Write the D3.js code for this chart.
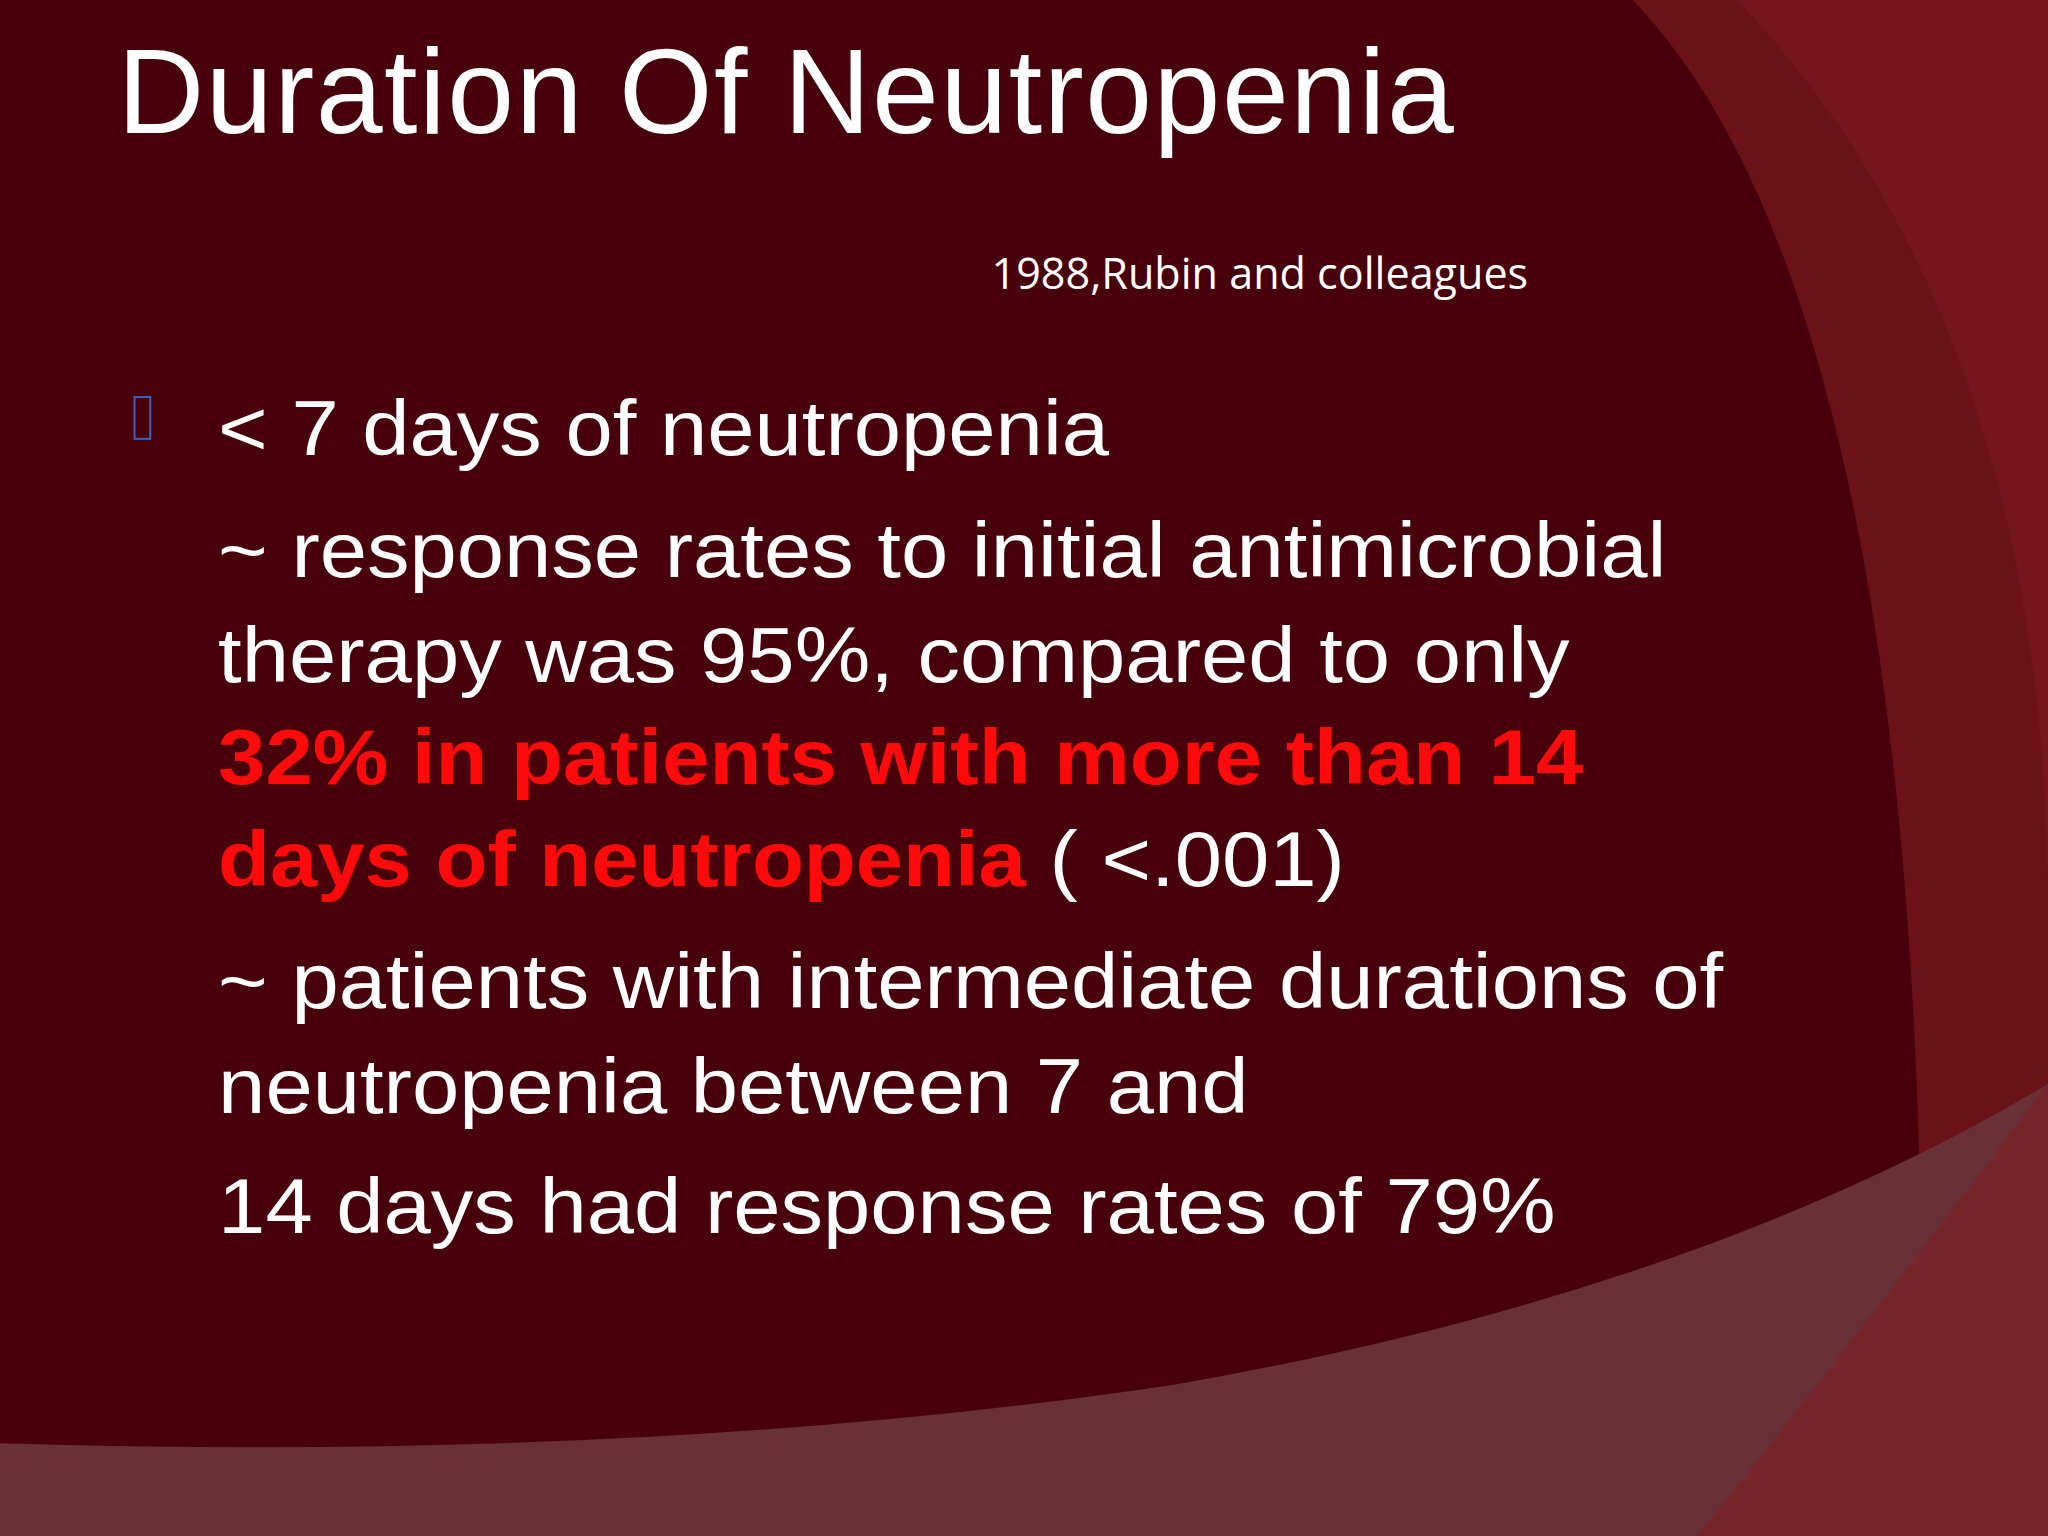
<!DOCTYPE html>
<html><head><meta charset="utf-8">
<script src="https://cdn.jsdelivr.net/npm/d3@7"></script>
<style>html,body{margin:0;padding:0;background:#4a0006;overflow:hidden}</style>
</head><body>
<script>
const title = "Duration Of Neutropenia";
const subtitle = "1988,Rubin and colleagues";
const lines = [
  [{t:"< 7 days of neutropenia"}],
  [{t:"~ response rates to initial antimicrobial"}],
  [{t:"therapy was 95%, compared to only"}],
  [{t:"32% in patients with more than 14", red:true}],
  [{t:"days of neutropenia", red:true},{t:" ( <.001)"}],
  [{t:"~ patients with intermediate durations of"}],
  [{t:"neutropenia between 7 and"}],
  [{t:"14 days had response rates of 79%"}]
];
const baselines = [348, 442, 522, 600, 678, 772, 852, 944]; // in 1568-wide reference units
const W = 2048, H = 1536;
const svg = d3.select("body").append("svg").attr("width",W).attr("height",H);
const y = d3.scaleLinear().domain([0,1176]).range([0,H]);
const x = d3.scaleLinear().domain([0,1568]).range([0,W]);
svg.append("rect").attr("width",W).attr("height",H).attr("fill","#48000a");
svg.append("path").attr("d",`M${x(1250)},0 Q${x(1490)},${y(250)} ${x(1470)},${y(1176)} L${W},${H} L${W},0 Z`).attr("fill","#6a1216");
svg.append("path").attr("d",`M${x(1330)},0 Q${x(1568)},${y(250)} ${x(1568)},${y(700)} L${W},0 Z`).attr("fill","#7a1a1e").attr("opacity",0.6);
svg.append("path").attr("d",`M0,${y(1105)} Q${x(500)},${y(1120)} ${x(900)},${y(1060)} Q${x(1300)},${y(990)} ${x(1568)},${y(830)} L${W},${H} L0,${H} Z`).attr("fill","#693035");
svg.append("path").attr("d",`M${x(1300)},${H} Q${x(1440)},${y(1000)} ${x(1568)},${y(830)} L${W},${H} Z`).attr("fill","#7a2228").attr("opacity",0.8);

svg.append("text").attr("x",x(90)).attr("y",y(102)).attr("fill","#fff")
  .attr("font-family","Liberation Sans, Arial, sans-serif").attr("font-size",y(92))
  .attr("textLength",x(1113)-x(90)).text(title);
svg.append("text").attr("x",x(1170)).attr("y",y(221)).attr("text-anchor","end").attr("fill","#fff")
  .attr("font-family","Open Sans, sans-serif").attr("font-size",y(33)).text(subtitle);
svg.append("rect").attr("x",x(103)).attr("y",y(304)).attr("width",x(12)).attr("height",y(32)).attr("fill","none").attr("stroke","#3a5fbf").attr("stroke-width",2);

lines.forEach((segs,i)=>{
  const t = svg.append("text")
    .attr("transform",`translate(${x(167)},${y(baselines[i])}) scale(1.085,1)`)
    .attr("font-family","Liberation Sans, Arial, sans-serif").attr("font-size",y(60));
  segs.forEach(s=>t.append("tspan").attr("fill",s.red?"#ff0a0a":"#fff").attr("font-weight",s.red?"bold":"normal").text(s.t));
});
</script>
</body></html>
